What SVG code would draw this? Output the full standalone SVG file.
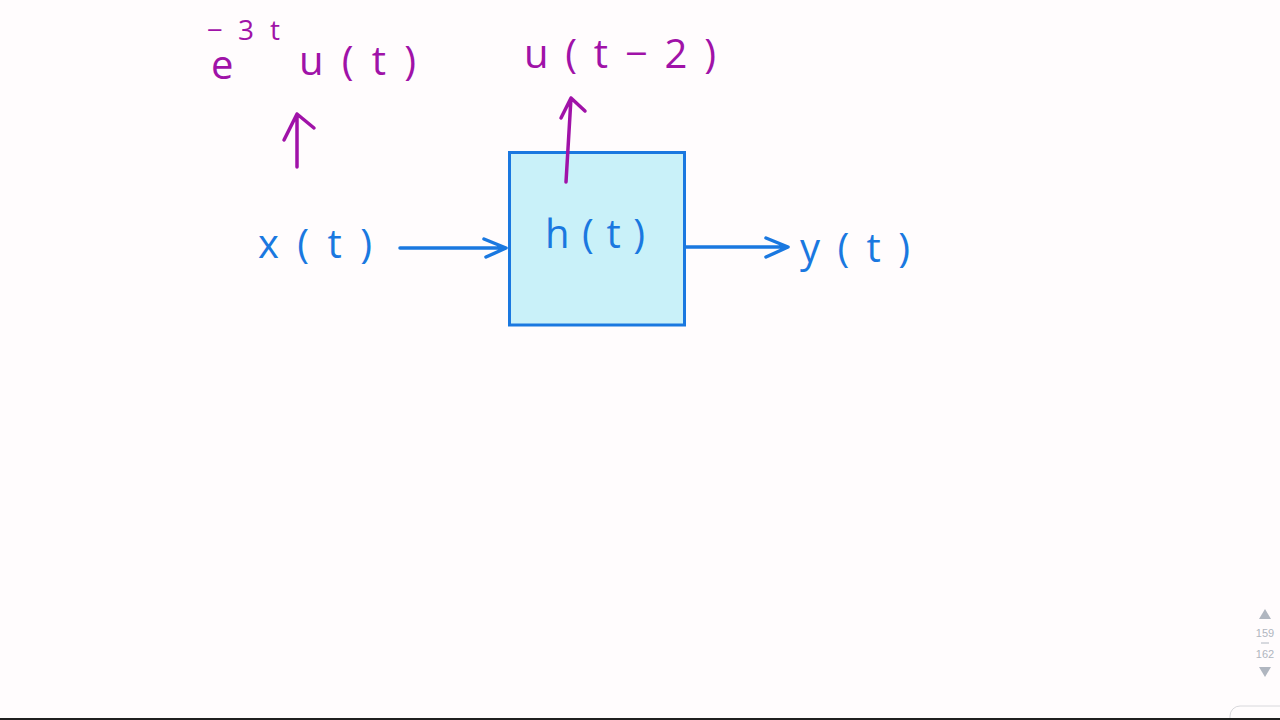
<svg xmlns="http://www.w3.org/2000/svg" width="1280" height="720" viewBox="0 0 1280 720">
<defs>
<style>
.blue{fill:none;stroke:#1a78e0;stroke-width:3.5;stroke-linecap:round;stroke-linejoin:round}
.purple{fill:none;stroke:#a012a8;stroke-width:3.5;stroke-linecap:round;stroke-linejoin:round}
.tb{font-family:"Open Sans","DejaVu Sans",sans-serif;fill:#1a78e0;font-size:40px}
.tp{font-family:"Open Sans","DejaVu Sans",sans-serif;fill:#a012a8;font-size:40px}
.sup{font-size:28px}
.pg{font-family:"Liberation Sans",sans-serif;fill:#b0b6c0;font-size:11px}
</style>
</defs>
<rect width="1280" height="720" fill="#fffcfd"/>
<g id="node-h">
<rect x="509.5" y="152.5" width="175" height="172.5" fill="#c9f1f9" stroke="#1a78e0" stroke-width="3"/>
<text class="tb" x="545" y="248" textLength="100" lengthAdjust="spacing">h(t)</text>
</g>
<g id="node-x"><text class="tb" x="258" y="258" textLength="114" lengthAdjust="spacing">x(t)</text></g>
<g id="node-y"><text class="tb" x="800" y="262" textLength="110" lengthAdjust="spacing">y(t)</text></g>
<g id="node-e3t">
<text class="tp" x="211" y="79">e<tspan class="sup" x="207 238 270" y="40">−3t</tspan></text>
<text class="tp" x="299" y="75" textLength="117" lengthAdjust="spacing">u(t)</text>
</g>
<g id="node-ut2"><text class="tp" x="524" y="68" textLength="192" lengthAdjust="spacing">u(t−2)</text></g>
<g id="connectors">
<path class="blue" d="M400 248 H506 M484 239 L506 248 L486 257"/>
<path class="blue" d="M686 247 H788 M766 238 L788 247 L766 257"/>
<path class="purple" d="M566 182 L571 98 M561 118 L571 98 L585 111"/>
<path class="purple" d="M297 167 V114 M284 140 L297 114 L314 128"/>
</g>
<g id="pager">
<path d="M1259 619 L1265 609 L1271 619 Z" fill="#b0b6c0"/>
<text class="pg" x="1265" y="637" text-anchor="middle">159</text>
<line x1="1261" y1="643" x2="1269" y2="643" stroke="#b0b6c0" stroke-width="1"/>
<text class="pg" x="1265" y="658" text-anchor="middle">162</text>
<path d="M1259 667 L1271 667 L1265 677 Z" fill="#b0b6c0"/>
<rect x="1230" y="706" width="70" height="30" rx="10" fill="none" stroke="#d8d8dc" stroke-width="1"/>
</g>
<rect x="0" y="718" width="1280" height="2" fill="#202020"/>
</svg>
